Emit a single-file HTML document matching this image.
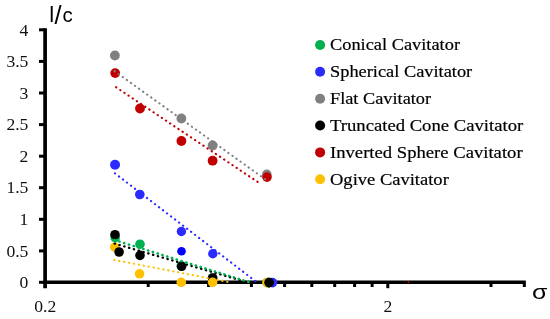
<!DOCTYPE html>
<html><head><meta charset="utf-8">
<style>
html,body{margin:0;padding:0;background:#fff;}
body{width:550px;height:319px;overflow:hidden;}
svg{display:block;}
.num{font-family:"Liberation Serif",serif;font-size:16px;fill:#111;}
.leg{font-family:"Liberation Serif",serif;font-size:17.5px;fill:#000;stroke:#000;stroke-width:0.2px;}
.ttl{font-family:"Liberation Sans",sans-serif;font-size:22px;fill:#000;}
</style></head>
<body>
<svg width="550" height="319" viewBox="0 0 550 319">
<!-- axes -->
<g stroke="#000" fill="none" stroke-linecap="butt">
<line x1="45.1" y1="28.3" x2="45.1" y2="288.2" stroke-width="3.7"/>
<line x1="43.2" y1="282.3" x2="525.8" y2="282.3" stroke-width="3.5"/>
<g stroke-width="3">
<line x1="39" y1="29.8" x2="45" y2="29.8"/>
<line x1="39" y1="61.4" x2="45" y2="61.4"/>
<line x1="39" y1="93.0" x2="45" y2="93.0"/>
<line x1="39" y1="124.6" x2="45" y2="124.6"/>
<line x1="39" y1="156.2" x2="45" y2="156.2"/>
<line x1="39" y1="187.7" x2="45" y2="187.7"/>
<line x1="39" y1="219.3" x2="45" y2="219.3"/>
<line x1="39" y1="250.9" x2="45" y2="250.9"/>
<line x1="39" y1="282.3" x2="45" y2="282.3"/>
</g>
<g stroke-width="3">
<line x1="148.2" y1="282.5" x2="148.2" y2="287"/>
<line x1="208.6" y1="282.5" x2="208.6" y2="287"/>
<line x1="251.4" y1="282.5" x2="251.4" y2="287"/>
<line x1="284.6" y1="282.5" x2="284.6" y2="287"/>
<line x1="311.8" y1="282.5" x2="311.8" y2="287"/>
<line x1="334.7" y1="282.5" x2="334.7" y2="287"/>
<line x1="354.6" y1="282.5" x2="354.6" y2="287"/>
<line x1="372.1" y1="282.5" x2="372.1" y2="287"/>
<line x1="387.8" y1="282.5" x2="387.8" y2="288.2"/>
<line x1="491.0" y1="282.5" x2="491.0" y2="287"/>
<line x1="524.3" y1="282.5" x2="524.3" y2="287"/>
</g>
</g>
<!-- y labels -->
<g class="num" text-anchor="end">
<text transform="translate(28.4 35.5) scale(1.1 1)">4</text>
<text transform="translate(28.4 67) scale(1.1 1)">3.5</text>
<text transform="translate(28.4 98.6) scale(1.1 1)">3</text>
<text transform="translate(28.4 130.2) scale(1.1 1)">2.5</text>
<text transform="translate(28.4 161.8) scale(1.1 1)">2</text>
<text transform="translate(28.4 193.4) scale(1.1 1)">1.5</text>
<text transform="translate(28.4 225) scale(1.1 1)">1</text>
<text transform="translate(28.4 256.6) scale(1.1 1)">0.5</text>
<text transform="translate(28.4 288.2) scale(1.1 1)">0</text>
</g>
<g class="num" text-anchor="middle">
<text transform="translate(45.3 312.2) scale(1.1 1)">0.2</text>
<text transform="translate(388 312.2) scale(1.1 1)">2</text>
</g>
<text class="ttl" x="49.3" y="21.5" style="font-size:22.2px">l<tspan dx="0.35" dy="2.4" style="font-size:25.5px">/</tspan><tspan dx="0.7" dy="-2.4" style="font-size:20.5px">c</tspan></text>
<text class="ttl" transform="translate(532 298.9) scale(1.25 1)" style="font-size:20px">σ</text>

<!-- markers -->
<g>
<!-- green -->
<g fill="#00B050">
<circle cx="115.2" cy="237.7" r="4.8"/>
<circle cx="140" cy="244.2" r="4.8"/>
<circle cx="181.3" cy="266" r="4.8"/>
<circle cx="212.6" cy="278" r="4.8"/>
<circle cx="267" cy="282.5" r="4.8"/>
</g>
<!-- blue -->
<g fill="#2B2BFF">
<circle cx="115.05" cy="164.7" r="5"/>
<circle cx="139.8" cy="194.5" r="4.8"/>
<circle cx="181.4" cy="231.5" r="4.7"/>
<circle cx="181.5" cy="251.2" r="4.3" fill="#0000FF"/>
<circle cx="212.8" cy="253.8" r="4.7"/>
<circle cx="272.5" cy="282.6" r="4.8"/>
</g>
<!-- gray -->
<g fill="#808080">
<circle cx="114.9" cy="55.5" r="4.9"/>
<circle cx="181.4" cy="118.5" r="4.9"/>
<circle cx="212.6" cy="145.5" r="4.9"/>
<circle cx="266.8" cy="174.4" r="4.8"/>
</g>
<!-- black -->
<g fill="#000">
<circle cx="115" cy="234.7" r="4.8"/>
<circle cx="140" cy="255.4" r="4.8"/>
<circle cx="181.6" cy="266.3" r="4.8"/>
<circle cx="212.6" cy="278" r="4.8"/>
<circle cx="269" cy="282.6" r="4.8"/>
</g>
<!-- red -->
<g fill="#C00000">
<circle cx="115.2" cy="73.1" r="4.9"/>
<circle cx="140" cy="108.5" r="4.9"/>
<circle cx="181.4" cy="141" r="4.9"/>
<circle cx="212.6" cy="160.7" r="4.9"/>
<circle cx="267" cy="177.1" r="4.8"/>
</g>
<!-- yellow -->
<g fill="#FFC000">
<circle cx="114.8" cy="247.2" r="4.8"/>
<circle cx="139.6" cy="273.8" r="4.8"/>
<circle cx="181.3" cy="282.3" r="4.8"/>
<circle cx="212.6" cy="282.3" r="4.8"/>
<circle cx="267" cy="282.6" r="4.8"/>
</g>
<!-- black on top of yellow -->
<circle cx="119.1" cy="252" r="4.8" fill="#000"/>
<circle cx="269" cy="282.6" r="4.8" fill="#000"/>
</g>

<!-- trendlines -->
<g fill="none" stroke-width="2.1" stroke-dasharray="0.3 4.7" stroke-linecap="round">
<line x1="114.9" y1="173.3" x2="256.5" y2="282" stroke="#2B2BFF" stroke-dasharray="0.3 4.75"/>
<line x1="114.6" y1="71.2" x2="265.5" y2="179.5" stroke="#808080"/>
<line x1="114.2" y1="86" x2="259" y2="182.8" stroke="#C00000" stroke-dashoffset="-2.2"/>
<line x1="114.2" y1="259.9" x2="231" y2="282.5" stroke="#FFC000"/>
<line x1="114.6" y1="243.6" x2="246.5" y2="282" stroke="#000" stroke-width="2.3"/>
<line x1="114.6" y1="240" x2="250.5" y2="282.6" stroke="#00B050" stroke-width="2.5"/>
</g>

<circle cx="408.5" cy="282.2" r="0.9" fill="#D00000"/>
<circle cx="404" cy="281.4" r="0.7" fill="#A00010" opacity="0.6"/>
<!-- legend -->
<g id="legdots">
<circle cx="320.1" cy="45.0" r="5" fill="#00B050"/>
<circle cx="320.1" cy="71.8" r="5" fill="#2B2BFF"/>
<circle cx="320.1" cy="98.7" r="5" fill="#808080"/>
<circle cx="320.1" cy="125.5" r="5" fill="#000"/>
<circle cx="320.1" cy="152.4" r="5" fill="#C00000"/>
<circle cx="320.1" cy="179.2" r="5" fill="#FFC000"/>
</g>
<g class="leg">
<text x="330" y="50.1" textLength="130.0" lengthAdjust="spacingAndGlyphs">Conical Cavitator</text>
<text x="330" y="77.0" textLength="142.2" lengthAdjust="spacingAndGlyphs">Spherical Cavitator</text>
<text x="330" y="103.9" textLength="101.1" lengthAdjust="spacingAndGlyphs">Flat Cavitator</text>
<text x="330" y="130.9" textLength="193.2" lengthAdjust="spacingAndGlyphs">Truncated Cone Cavitator</text>
<text x="330" y="157.8" textLength="192.6" lengthAdjust="spacingAndGlyphs">Inverted Sphere Cavitator</text>
<text x="330" y="184.7" textLength="118.8" lengthAdjust="spacingAndGlyphs">Ogive Cavitator</text>
</g>
</svg>
</body></html>
